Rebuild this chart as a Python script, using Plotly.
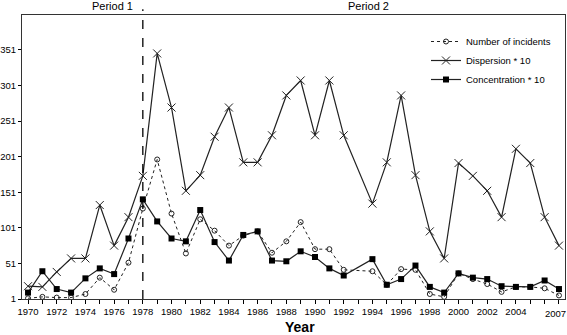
import plotly.graph_objects as go

years = [1970, 1971, 1972, 1973, 1974, 1975, 1976, 1977, 1978, 1979, 1980, 1981,
         1982, 1983, 1984, 1985, 1986, 1987, 1988, 1989, 1990, 1991, 1992,
         1994, 1995, 1996, 1997, 1998, 1999, 2000, 2001, 2002, 2003, 2004,
         2005, 2006, 2007]

incidents = [2, 4, 3, 3, 8, 31, 14, 52, 128, 197, 121, 65, 113, 97, 76, 90, 96,
             66, 82, 109, 71, 71, 42,
             40, 21, 43, 42, 8, 4, 37, 29, 22, 11, 18, 18, 16, 6]

dispersion = [19, 18, 39, 58, 58, 133, 76, 116, 174, 346, 270, 153, 175, 229,
              270, 193, 193, 231, 287, 308, 231, 308, 231,
              135, 193, 287, 175, 96, 58, 192, 174, 153, 116, 212, 192, 116, 76]

concentration = [10, 40, 15, 10, 30, 44, 36, 86, 141, 110, 86, 82, 126, 81, 55,
                 91, 96, 55, 54, 68, 60, 44, 34,
                 57, 21, 29, 48, 18, 10, 37, 31, 29, 19, 18, 18, 27, 15]

tick_years = list(range(1970, 2008))
tick_labels = [str(y) if (y % 2 == 0 and y <= 2004) or y == 2007 else ""
               for y in tick_years]

y_ticks = [1, 51, 101, 151, 201, 251, 301, 351]

font_family = "Liberation Sans, Arial, sans-serif"
ink = "#222222"

fig = go.Figure()
fig.add_trace(go.Scatter(
    x=years, y=incidents, name="Number of incidents", mode="lines+markers",
    line=dict(color=ink, width=1, dash="dot"),
    marker=dict(symbol="circle-open", size=5, color=ink, line=dict(width=1)),
))
fig.add_trace(go.Scatter(
    x=years, y=dispersion, name="Dispersion * 10", mode="lines+markers",
    line=dict(color=ink, width=1.2),
    marker=dict(symbol="x-thin", size=8, color=ink, line=dict(width=1, color=ink)),
))
fig.add_trace(go.Scatter(
    x=years, y=concentration, name="Concentration * 10", mode="lines+markers",
    line=dict(color=ink, width=1.2),
    marker=dict(symbol="square", size=6, color="black"),
))

fig.add_shape(type="line", xref="x", yref="paper", x0=1978, x1=1978, y0=0, y1=1.02,
              line=dict(color="black", width=1.3, dash="dash"))

fig.add_annotation(text="Period 1", xref="paper", yref="paper",
                   x=(90 - 22) / 543, y=1, yanchor="bottom", yshift=1,
                   showarrow=False, font=dict(size=11, color="black"))
fig.add_annotation(text="Period 2", xref="paper", yref="paper",
                   x=(368 - 22) / 543, y=1, yanchor="bottom", yshift=1,
                   showarrow=False, font=dict(size=11, color="black"))
fig.add_annotation(text="<b>Year</b>", xref="paper", yref="paper",
                   x=(300 - 22) / 543, y=0, yanchor="top", yshift=-18,
                   showarrow=False, font=dict(size=14, color="black"))
# last tick label, nudged left so it stays inside the page as in the reference
fig.add_annotation(text=tick_labels[-1], xref="x", yref="paper",
                   x=tick_years[-1], y=0, yanchor="top", xanchor="center",
                   xshift=-3, yshift=-7, showarrow=False,
                   font=dict(size=9.5, color="black"))

fig.update_layout(
    template="none",
    width=567, height=335,
    margin=dict(l=22, r=2, t=15, b=36, pad=0),
    paper_bgcolor="white", plot_bgcolor="white",
    font=dict(family=font_family, size=10, color="black"),
    showlegend=True,
    legend=dict(x=(426 - 22) / 543, y=(299 - 27) / 284, xanchor="left", yanchor="top",
                bgcolor="rgba(0,0,0,0)", font=dict(size=9.5), itemwidth=30,
                tracegroupgap=0),
    xaxis=dict(range=[1969.58, 2007.42], tickvals=tick_years,
               ticktext=tick_labels[:-1] + [""],
               ticks="outside", ticklen=4, tickcolor="black", showgrid=False,
               zeroline=False, showline=True, linecolor="#333", linewidth=1,
               mirror=True, tickfont=dict(size=9.5), automargin=False,
               ticklabeloverflow="allow"),
    yaxis=dict(range=[1, 400], tickvals=y_ticks, ticks="outside", ticklen=3,
               tickcolor="black", showgrid=False, zeroline=False, showline=True,
               linecolor="#333", linewidth=1, mirror=True, tickfont=dict(size=9.5),
               automargin=False, ticklabeloverflow="allow"),
)

fig.write_html("out.html", config={"displayModeBar": False},
               post_script="document.body.style.margin='0';document.body.style.padding='0';")
